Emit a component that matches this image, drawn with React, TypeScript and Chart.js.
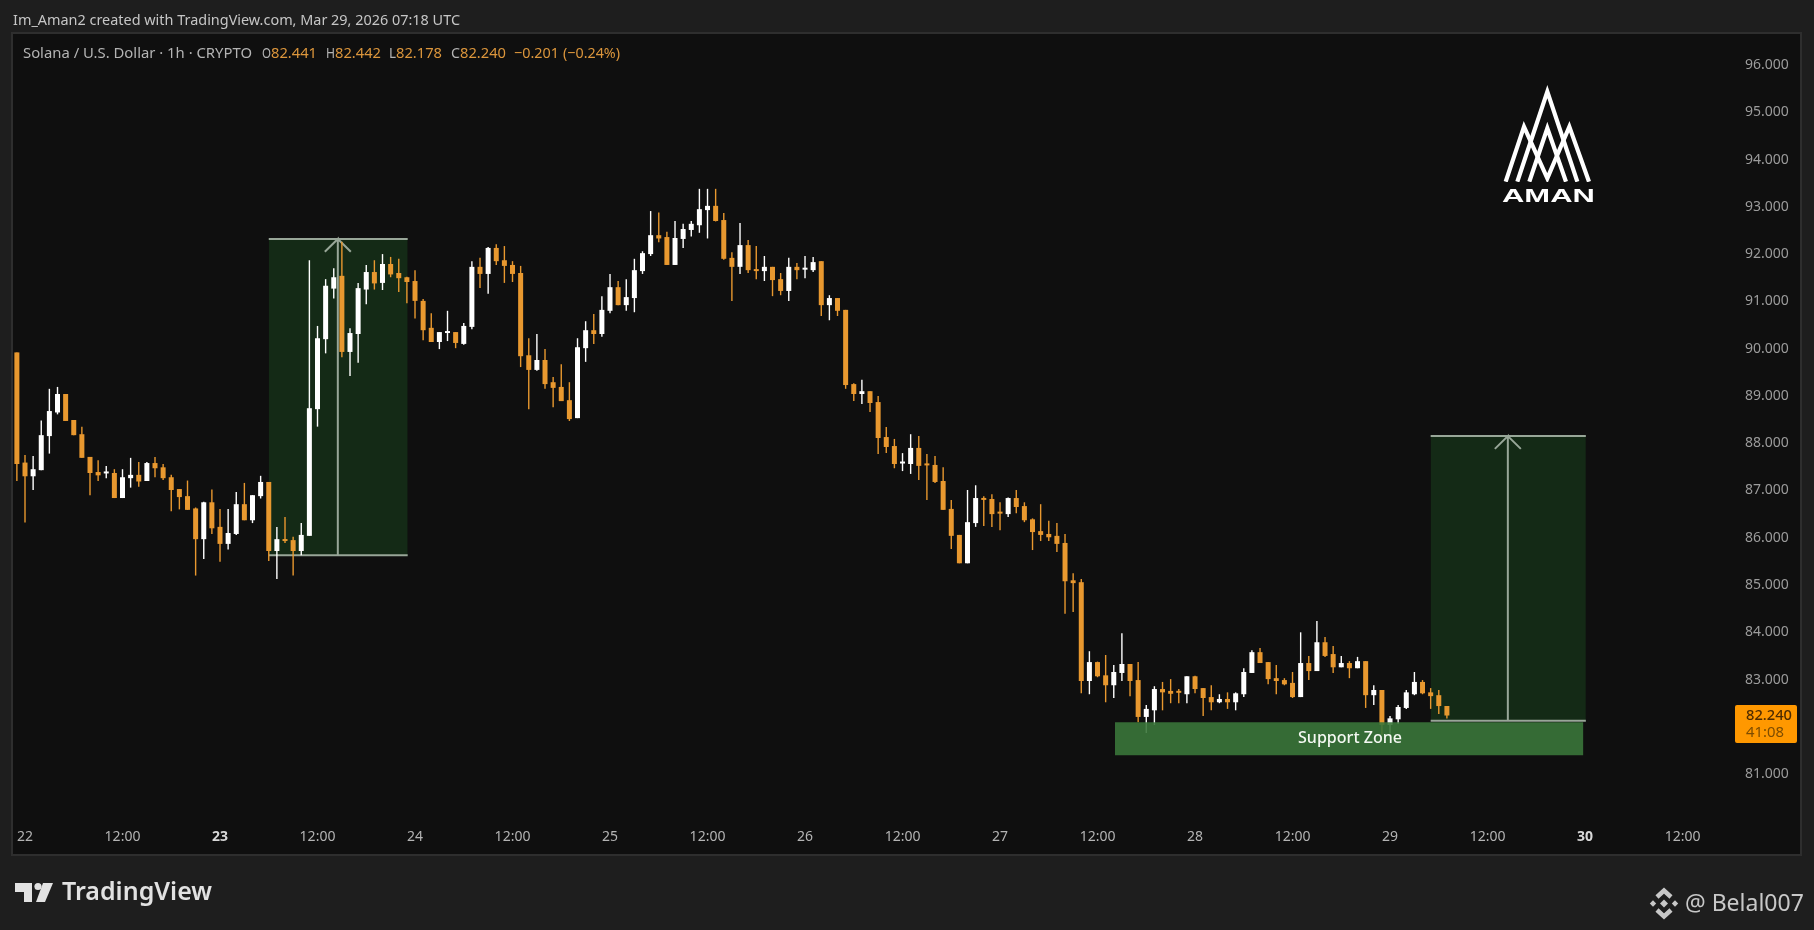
import React, { useEffect, useRef } from "react";
import { Chart, registerables } from "chart.js";

Chart.register(...registerables);

const firstHour = -1;
const opens = [89.92,87.59,87.30,87.43,88.15,88.65,89.04,88.49,88.19,87.71,87.39,87.36,87.37,86.84,87.26,87.33,87.20,87.58,87.49,87.28,87.03,86.88,86.62,85.97,86.75,86.23,85.87,86.08,86.71,86.37,86.88,87.18,85.72,85.97,85.95,85.72,86.04,88.72,90.20,91.27,91.54,89.93,90.31,91.25,91.62,91.39,91.79,91.60,91.51,91.43,91.01,90.44,90.14,90.33,90.35,90.10,90.46,91.73,91.58,92.13,91.87,91.77,91.60,89.86,89.55,89.76,89.29,89.19,88.91,88.53,90.01,90.39,90.31,90.80,91.30,90.92,91.07,91.64,92.00,92.40,92.36,91.77,92.32,92.51,92.61,92.93,93.02,92.72,91.92,91.73,92.19,91.68,91.64,91.73,91.47,91.22,91.73,91.67,91.66,91.85,90.92,91.07,90.82,89.25,89.04,89.10,88.87,88.13,87.94,87.57,87.56,87.90,87.54,87.54,87.20,86.61,86.06,85.46,86.31,86.84,86.82,86.52,86.50,86.84,86.67,86.39,86.14,86.08,86.04,85.89,85.10,85.06,82.97,83.37,83.09,82.88,83.14,83.33,82.99,82.21,82.35,82.80,82.76,82.74,82.69,83.07,82.82,82.63,82.52,82.59,82.52,82.69,83.14,83.58,83.37,83.03,82.99,82.93,82.63,83.35,83.18,83.79,83.54,83.26,83.35,83.24,83.39,82.67,82.78,82.04,82.16,82.40,82.69,82.95,82.73,82.67,82.441];
const highs = [89.92,87.75,87.73,88.48,89.15,89.19,89.04,88.49,88.35,87.71,87.64,87.52,87.45,87.45,87.69,87.60,87.60,87.71,87.56,87.33,87.03,87.21,86.64,86.76,87.02,86.61,86.61,86.97,87.16,86.90,87.31,87.18,86.23,86.44,86.02,86.31,91.87,90.48,91.47,91.70,92.26,90.43,91.39,91.77,91.87,92.00,91.94,91.90,91.52,91.66,91.05,90.75,90.35,90.80,90.35,90.54,91.85,91.92,92.15,92.21,92.17,91.85,91.75,90.22,90.31,89.99,89.40,89.67,89.29,90.22,90.58,90.73,91.11,91.58,91.43,91.47,91.90,92.06,92.91,92.88,92.47,92.70,92.64,92.70,93.38,93.38,93.38,92.87,92.04,92.66,92.30,92.17,91.96,91.73,91.60,91.92,91.81,91.96,91.94,91.85,91.13,91.07,90.82,89.27,89.34,89.10,89.00,88.34,88.09,87.79,88.19,88.15,87.77,87.73,87.49,86.80,86.06,87.01,87.11,86.88,86.92,86.75,86.85,87.01,86.75,86.41,86.71,86.36,86.31,86.08,85.25,85.13,83.60,83.38,83.52,83.31,83.98,83.33,83.37,82.46,82.86,82.95,83.01,82.80,83.07,83.08,82.82,82.88,82.69,82.73,82.73,83.24,83.62,83.67,83.37,83.31,83.03,83.16,84.00,83.50,84.24,83.90,83.71,83.50,83.39,83.48,83.39,82.88,82.78,82.23,82.46,82.78,83.16,82.99,82.82,82.78,82.442];
const lows = [87.20,86.32,87.01,87.43,87.78,88.61,88.47,88.17,87.69,86.90,87.20,87.26,86.84,86.84,87.06,87.08,87.20,87.28,87.22,86.56,86.60,86.59,85.20,85.55,86.08,85.49,85.75,86.06,86.37,86.31,86.83,85.51,85.13,85.89,85.20,85.63,86.04,88.35,89.90,91.06,89.82,89.42,89.70,90.94,91.25,91.24,91.51,91.20,90.96,90.64,90.18,90.14,89.99,90.16,90.01,90.08,90.41,91.28,91.16,91.77,91.39,91.41,89.61,88.72,89.53,89.15,88.76,88.89,88.47,88.53,89.72,90.10,90.25,90.75,90.92,90.80,90.77,91.58,91.96,92.25,91.77,91.77,92.13,92.37,92.45,92.33,92.69,91.88,91.01,91.58,91.60,91.47,91.43,91.11,91.13,91.01,91.47,91.49,91.62,90.69,90.60,90.69,89.15,88.89,88.83,88.66,87.77,87.79,87.47,87.41,87.35,87.22,86.80,87.16,86.59,85.76,85.46,85.46,86.23,86.25,86.23,86.16,86.44,86.52,86.33,85.74,85.93,85.93,85.70,84.39,84.43,82.71,82.69,83.05,82.52,82.61,82.97,82.65,82.10,81.87,82.04,82.35,82.50,82.50,82.50,82.71,82.23,82.35,82.50,82.38,82.35,82.63,83.14,83.35,82.90,82.69,82.88,82.61,82.63,82.99,83.18,83.48,83.14,83.26,83.03,83.24,82.40,82.46,81.83,81.86,82.06,82.38,82.67,82.69,82.38,82.27,82.178];
const closes = [87.56,87.30,87.45,88.17,88.68,89.04,88.47,88.17,87.69,87.37,87.32,87.37,86.84,87.28,87.33,87.19,87.58,87.47,87.26,87.01,86.86,86.59,85.97,86.75,86.20,85.87,86.10,86.71,86.37,86.90,87.18,85.72,85.97,85.93,85.72,86.06,88.74,90.22,91.33,91.51,89.93,90.33,91.28,91.62,91.38,91.79,91.57,91.49,91.41,91.01,90.39,90.14,90.35,90.35,90.12,90.48,91.73,91.58,92.13,91.85,91.75,91.58,89.84,89.55,89.76,89.25,89.17,88.89,88.51,90.03,90.39,90.31,90.82,91.30,90.92,91.09,91.66,92.02,92.40,92.33,91.77,92.34,92.53,92.64,92.95,93.02,92.70,91.90,91.73,92.19,91.66,91.64,91.73,91.45,91.22,91.73,91.66,91.68,91.83,90.92,91.07,90.80,89.23,89.04,89.10,88.85,88.11,87.92,87.56,87.58,87.90,87.52,87.53,87.18,86.59,86.04,85.46,86.33,86.84,86.80,86.50,86.51,86.84,86.65,86.37,86.12,86.06,86.01,85.87,85.08,85.04,82.97,83.37,83.07,82.88,83.16,83.33,82.97,82.21,82.38,82.80,82.73,82.70,82.72,83.07,82.80,82.61,82.52,82.59,82.52,82.71,83.16,83.58,83.35,83.01,82.97,82.90,82.63,83.35,83.18,83.79,83.50,83.26,83.35,83.24,83.39,82.67,82.78,82.04,82.18,82.42,82.73,82.95,82.71,82.65,82.44,82.240];

const priceTicks = [81,83,84,85,86,87,88,89,90,91,92,93,94,95,96];
const timeTickHours = [0,12,24,36,48,60,72,84,96,108,120,132,144,156,168,180,192,204];
const timeTickLabels = ["22","12:00","23","12:00","24","12:00","25","12:00","26","12:00","27","12:00","28","12:00","29","12:00","30","12:00"];
const boldTimeLabels = ["23","30"];

const box1Hours = [30, 47.1];
const box1Prices = [85.63, 92.32];
const box1ArrowHour = 38.5;
const box2Hours = [173, 192.1];
const box2Prices = [82.13, 88.15];
const box2ArrowHour = 182.5;
const zoneHours = [134.15, 191.8];
const zonePrices = [81.4, 82.1];

const ORANGE = "#e8982f";
const WHITE = "#ffffff";
const LINE = "#98a698";
const FONT = '"Noto Sans", sans-serif';

const arrowPath = (h: number, lo: number, hi: number) => [
  { x: h, y: lo }, { x: h, y: hi }, { x: h - 1.6, y: hi - 0.27 }, { x: h, y: hi }, { x: h + 1.6, y: hi - 0.27 },
];

function boxDatasets(hours: number[], prices: number[], arrowHour: number) {
  const [h0, h1] = hours;
  const [lo, hi] = prices;
  const base = { type: "line", pointRadius: 0, borderJoinStyle: "miter", tension: 0 };
  return [
    { ...base, data: [{ x: h0, y: hi }, { x: h1, y: hi }], borderColor: LINE, borderWidth: 2, backgroundColor: "#142a16", fill: { value: lo }, order: 6 },
    { ...base, data: [{ x: h0, y: lo }, { x: h1, y: lo }], borderColor: LINE, borderWidth: 2, fill: false, order: 5 },
    { ...base, data: arrowPath(arrowHour, lo, hi), borderColor: LINE, borderWidth: 2, fill: false, order: 4 },
  ];
}

const textDecor = {
  id: "textDecor",
  beforeDraw(chart: any) {
    const { ctx, width, height } = chart;
    ctx.save();
    ctx.fillStyle = "#1e1e1e";
    ctx.fillRect(0, 0, width, height);
    ctx.fillStyle = "#0f0f0f";
    ctx.fillRect(13, 34, 1787, 820);
    ctx.strokeStyle = "#2e2e2e";
    ctx.lineWidth = 2;
    ctx.strokeRect(12, 33, 1789, 822);
    ctx.restore();
  },
  afterDatasetsDraw(chart: any) {
    const { ctx } = chart;
    const y = chart.scales.y;
    const txt = (s: string, x: number, yy: number, color: string, font: string, maxW?: number) => {
      ctx.fillStyle = color;
      ctx.font = font;
      ctx.textAlign = "left";
      ctx.textBaseline = "middle";
      if (maxW) ctx.fillText(s, x, yy, maxW);
      else ctx.fillText(s, x, yy);
    };
    ctx.save();
    const f15 = `15px ${FONT}`;
    txt("Im_Aman2 created with TradingView.com, Mar 29, 2026 07:18 UTC", 13, 20.5, "#c6c6c6", f15, 447);
    const grey = "#b4b4b4";
    const org = "#dc963c";
    txt("Solana / U.S. Dollar · 1h · CRYPTO", 23, 54, grey, f15, 229);
    txt("O", 262, 54, grey, f15, 9);
    txt("82.441", 271, 54, org, f15, 46);
    txt("H", 326, 54, grey, f15, 9);
    txt("82.442", 335, 54, org, f15, 46);
    txt("L", 389, 54, grey, f15, 7);
    txt("82.178", 396, 54, org, f15, 46);
    txt("C", 451, 54, grey, f15, 9);
    txt("82.240", 460, 54, org, f15, 46);
    txt("−0.201", 514, 54, org, f15, 45);
    txt("(−0.24%)", 563, 54, org, f15, 57);

    // support zone label
    txt("Support Zone", 1298, 738, "#f4f8f2", `500 17px ${FONT}`, 104);

    // last price tag
    const tagTop = y.getPixelForValue(closes[closes.length - 1]) - 10.5;
    ctx.fillStyle = "#ff9800";
    ctx.beginPath();
    ctx.roundRect(1735, tagTop, 62, 38, 2);
    ctx.fill();
    txt("82.240", 1746, tagTop + 11, "#4e2c00", `500 15px ${FONT}`, 46);
    txt("41:08", 1746, tagTop + 28, "#7d4c00", f15, 38);

    // AMAN logo
    const lx = (v: number) => 1440 + v / 3;
    const ly = (v: number) => 60 + v / 3;
    const logoLines = [
      [[197,365],[252,200],[322,355],[388,200],[447,365]],
      [[268,365],[322,205],[378,365]],
      [[232,365],[322,95],[412,365]],
    ];
    ctx.strokeStyle = "#ffffff";
    ctx.lineWidth = 4.2;
    ctx.lineJoin = "miter";
    ctx.save();
    ctx.beginPath();
    ctx.rect(1490, 70, 120, 112);
    ctx.clip();
    for (const pts of logoLines) {
      ctx.beginPath();
      pts.forEach(([a, b], i) => (i ? ctx.lineTo(lx(a), ly(b)) : ctx.moveTo(lx(a), ly(b))));
      ctx.stroke();
    }
    ctx.restore();
    ctx.save();
    ctx.translate(1502, 197);
    ctx.scale(1.72, 1);
    txt("AMAN", 0, 0, "#ffffff", `700 18px "Liberation Sans", sans-serif`);
    ctx.restore();

    // TradingView logo
    ctx.fillStyle = "#e2e2e2";
    ctx.beginPath();
    [[15,883],[32,883],[32,902],[24,902],[24,892],[15,892]].forEach(([a, b], i) => (i ? ctx.lineTo(a, b) : ctx.moveTo(a, b)));
    ctx.closePath();
    ctx.fill();
    ctx.beginPath();
    [[43,883],[53,883],[45,902],[36,902]].forEach(([a, b], i) => (i ? ctx.lineTo(a, b) : ctx.moveTo(a, b)));
    ctx.closePath();
    ctx.fill();
    ctx.beginPath();
    ctx.arc(38, 886.5, 3.6, 0, Math.PI * 2);
    ctx.fill();
    txt("TradingView", 62, 893, "#e2e2e2", `600 25px ${FONT}`, 151);

    // Binance mark and watermark
    ctx.fillStyle = "#c8c8c8";
    const diamond = (cx: number, cy: number, r: number) => {
      ctx.beginPath();
      ctx.moveTo(cx, cy - r);
      ctx.lineTo(cx + r, cy);
      ctx.lineTo(cx, cy + r);
      ctx.lineTo(cx - r, cy);
      ctx.closePath();
      ctx.fill();
    };
    diamond(1664, 903.5, 4);
    diamond(1653, 903.5, 3.2);
    diamond(1675, 903.5, 3.2);
    ctx.lineWidth = 4.5;
    ctx.strokeStyle = "#c8c8c8";
    ctx.beginPath();
    ctx.moveTo(1657, 897); ctx.lineTo(1664, 890.5); ctx.lineTo(1671, 897);
    ctx.moveTo(1657, 910); ctx.lineTo(1664, 916.5); ctx.lineTo(1671, 910);
    ctx.stroke();
    txt("@ Belal007", 1685, 904, "#c8c8c8", `23px ${FONT}`, 120);
    ctx.restore();
  },
};

export default function App() {
  const ref = useRef<HTMLCanvasElement>(null);
  useEffect(() => {
    document.body.style.margin = "0";
    document.body.style.background = "#1e1e1e";
    const hours = opens.map((_, i) => firstHour + i);
    const colors = opens.map((o, i) => (closes[i] < o ? ORANGE : WHITE));
    const chart = new Chart(ref.current as HTMLCanvasElement, {
      type: "bar",
      data: {
        datasets: [
          ...boxDatasets(box1Hours, box1Prices, box1ArrowHour),
          ...boxDatasets(box2Hours, box2Prices, box2ArrowHour),
          {
            type: "bar",
            data: hours.map((h, i) => ({ x: h, y: [lows[i], highs[i]] })),
            backgroundColor: colors,
            barThickness: 1.4,
            grouped: false,
            inflateAmount: 0,
            order: 3,
          },
          {
            type: "bar",
            data: hours.map((h, i) => ({ x: h, y: [opens[i], closes[i]] })),
            backgroundColor: colors,
            barThickness: 5,
            minBarLength: 2,
            grouped: false,
            inflateAmount: 0,
            order: 2,
          },
          {
            type: "line",
            data: [{ x: zoneHours[0], y: zonePrices[1] }, { x: zoneHours[1], y: zonePrices[1] }],
            borderWidth: 0,
            pointRadius: 0,
            backgroundColor: "rgba(58,117,58,0.9)",
            fill: { value: zonePrices[0] },
            order: 1,
          },
        ] as any,
      },
      options: {
        animation: false,
        responsive: false,
        devicePixelRatio: 1,
        layout: { padding: { left: 13, top: 34, right: 14, bottom: 76 } },
        plugins: { legend: { display: false }, tooltip: { enabled: false }, title: { display: false } },
        scales: {
          x: {
            type: "linear",
            offset: false,
            min: -1.477,
            max: 207.38,
            grid: { display: false, drawTicks: false },
            border: { display: false },
            afterBuildTicks: (s: any) => { s.ticks = timeTickHours.map((value) => ({ value })); },
            afterFit: (s: any) => { s.height = 34; s.paddingLeft = 0; s.paddingRight = 0; },
            ticks: {
              autoSkip: false,
              maxRotation: 0,
              minRotation: 0,
              padding: 9,
              callback: (v: any) => timeTickLabels[timeTickHours.indexOf(Number(v))],
              color: (c: any) => (boldTimeLabels.includes(timeTickLabels[c.index]) ? "#d8d8d8" : "#b4b4b4"),
              font: (c: any) => ({
                family: FONT,
                size: 14,
                weight: boldTimeLabels.includes(timeTickLabels[c.index]) ? 700 : 400,
              }),
            },
          },
          y: {
            type: "linear",
            position: "right",
            min: 80.03,
            max: 96.655,
            grid: { display: false, drawTicks: false },
            border: { display: false },
            afterBuildTicks: (s: any) => { s.ticks = priceTicks.map((value) => ({ value })); },
            afterFit: (s: any) => { s.width = 90; s.paddingTop = 0; s.paddingBottom = 0; },
            ticks: {
              autoSkip: false,
              padding: 35,
              callback: (v: any) => Number(v).toFixed(3),
              color: "#9c9c9c",
              font: { family: FONT, size: 14 },
            },
          },
        },
      } as any,
      plugins: [textDecor],
    });
    return () => chart.destroy();
  }, []);
  return <canvas ref={ref} width={1814} height={930} style={{ display: "block" }} />;
}
